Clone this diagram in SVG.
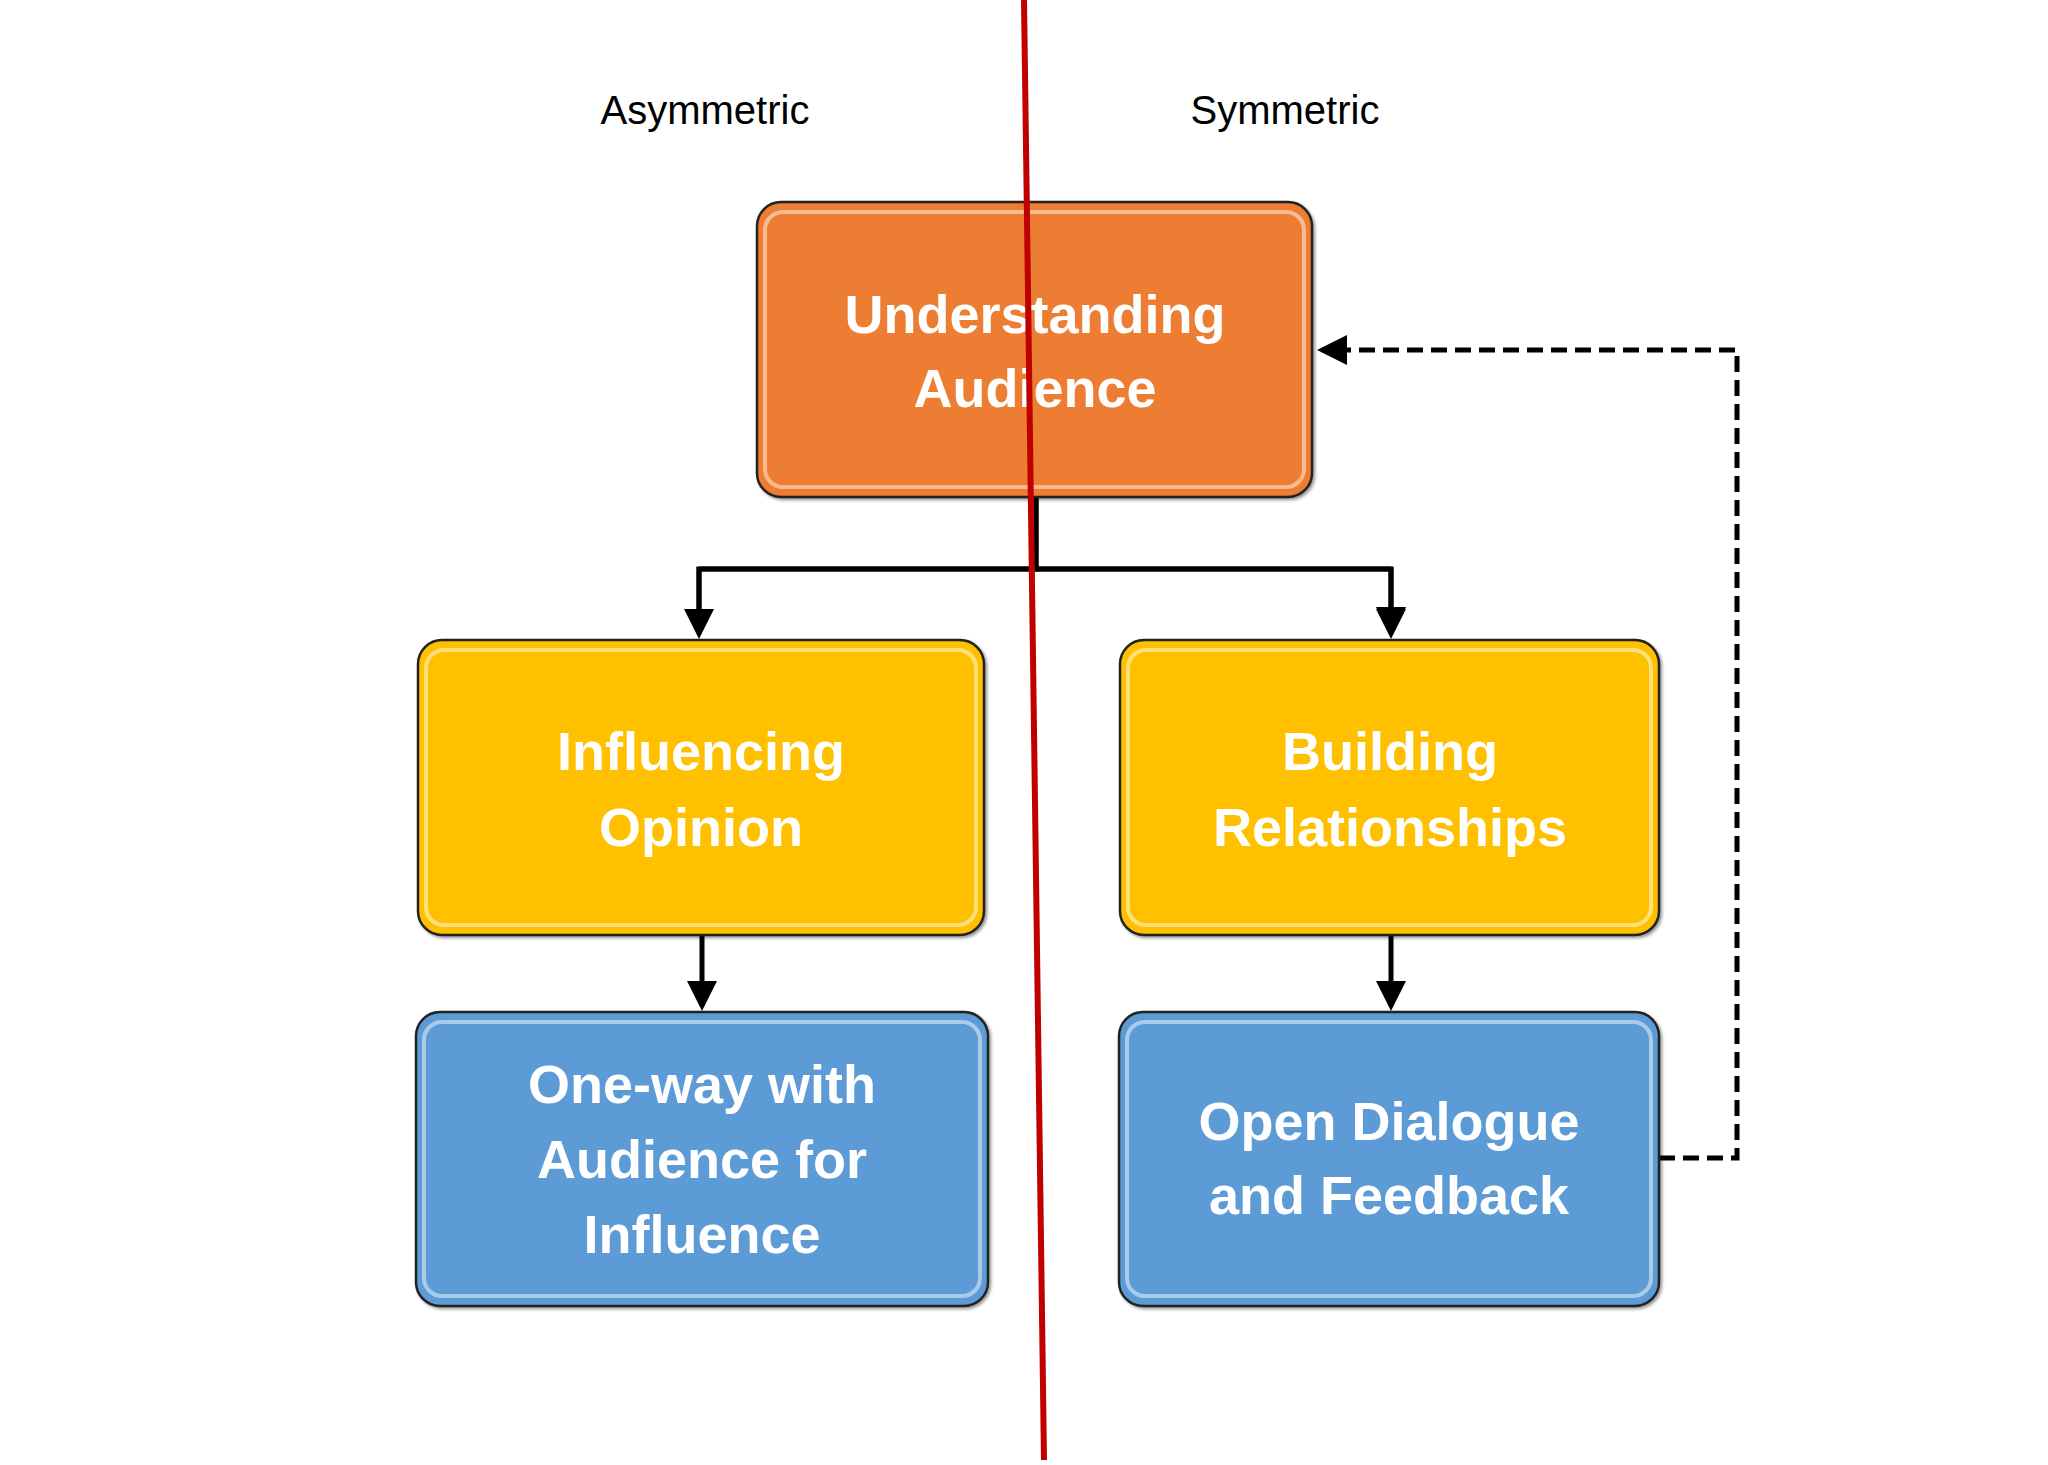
<svg xmlns="http://www.w3.org/2000/svg" width="2048" height="1465" viewBox="0 0 2048 1465">
<style>
.box{stroke:#222;stroke-width:2.5}
.hl{fill:none;stroke-width:4;stroke-opacity:0.8}
.t{font-family:"Liberation Sans",Arial,sans-serif;font-weight:bold;font-size:54px;fill:#fff;text-anchor:middle}
.lab{font-family:"Liberation Sans",Arial,sans-serif;font-size:40px;fill:#000;text-anchor:middle}
.c{fill:none;stroke:#000;stroke-width:5}
</style>
<defs>
<marker id="a" markerWidth="6" markerHeight="6" refX="5" refY="3" orient="auto" markerUnits="strokeWidth"><path d="M0,0L6,3L0,6z" fill="#000"/></marker>
<filter id="s"><feDropShadow dx="2" dy="2" stdDeviation="1.5" flood-opacity="0.4"/></filter>
</defs>
<rect width="2048" height="1465" fill="#fff"/>
<text class="lab" x="705" y="124">Asymmetric</text>
<text class="lab" x="1285" y="124">Symmetric</text>
<g id="connectors">
<path class="c" d="M1036,497V569M699,569H1391M699,567V632M1391,567V632" marker-end="url(#a)"/>
<path class="c" d="M1036,497V569H699V634" marker-end="url(#a)"/>
<path class="c" d="M1036,569H1391V634" marker-end="url(#a)"/>
<path class="c" d="M702,935V1006" marker-end="url(#a)"/>
<path class="c" d="M1391,935V1006" marker-end="url(#a)"/>
<path class="c" d="M1659,1158H1737V350H1322" stroke-dasharray="16,8" marker-end="url(#a)"/>
</g>
<g id="n1" filter="url(#s)">
<rect class="box" x="757" y="202" width="555" height="295" rx="24" fill="#ED7D31"/>
<rect class="hl" x="765" y="212" width="539" height="275" rx="18" stroke="#F8CBAD"/>
<text class="t" x="1035" y="333">Understanding</text>
<text class="t" x="1035" y="407">Audience</text>
</g>
<g id="n2" filter="url(#s)">
<rect class="box" x="418" y="640" width="566" height="295" rx="24" fill="#FFC000"/>
<rect class="hl" x="426" y="650" width="550" height="275" rx="18" stroke="#FFE699"/>
<text class="t" x="701" y="770">Influencing</text>
<text class="t" x="701" y="846">Opinion</text>
</g>
<g id="n3" filter="url(#s)">
<rect class="box" x="1120" y="640" width="539" height="295" rx="24" fill="#FFC000"/>
<rect class="hl" x="1128" y="650" width="523" height="275" rx="18" stroke="#FFE699"/>
<text class="t" x="1390" y="770">Building</text>
<text class="t" x="1390" y="846">Relationships</text>
</g>
<g id="n4" filter="url(#s)">
<rect class="box" x="416" y="1012" width="572" height="294" rx="24" fill="#5B9BD5"/>
<rect class="hl" x="424" y="1022" width="556" height="274" rx="18" stroke="#BDD7EE"/>
<text class="t" x="702" y="1103">One-way with</text>
<text class="t" x="702" y="1178">Audience for</text>
<text class="t" x="702" y="1253">Influence</text>
</g>
<g id="n5" filter="url(#s)">
<rect class="box" x="1119" y="1012" width="540" height="294" rx="24" fill="#5B9BD5"/>
<rect class="hl" x="1127" y="1022" width="524" height="274" rx="18" stroke="#BDD7EE"/>
<text class="t" x="1389" y="1140">Open Dialogue</text>
<text class="t" x="1389" y="1214">and Feedback</text>
</g>
<line x1="1024" y1="0" x2="1044" y2="1460" stroke="#C00000" stroke-width="6"/>
</svg>
